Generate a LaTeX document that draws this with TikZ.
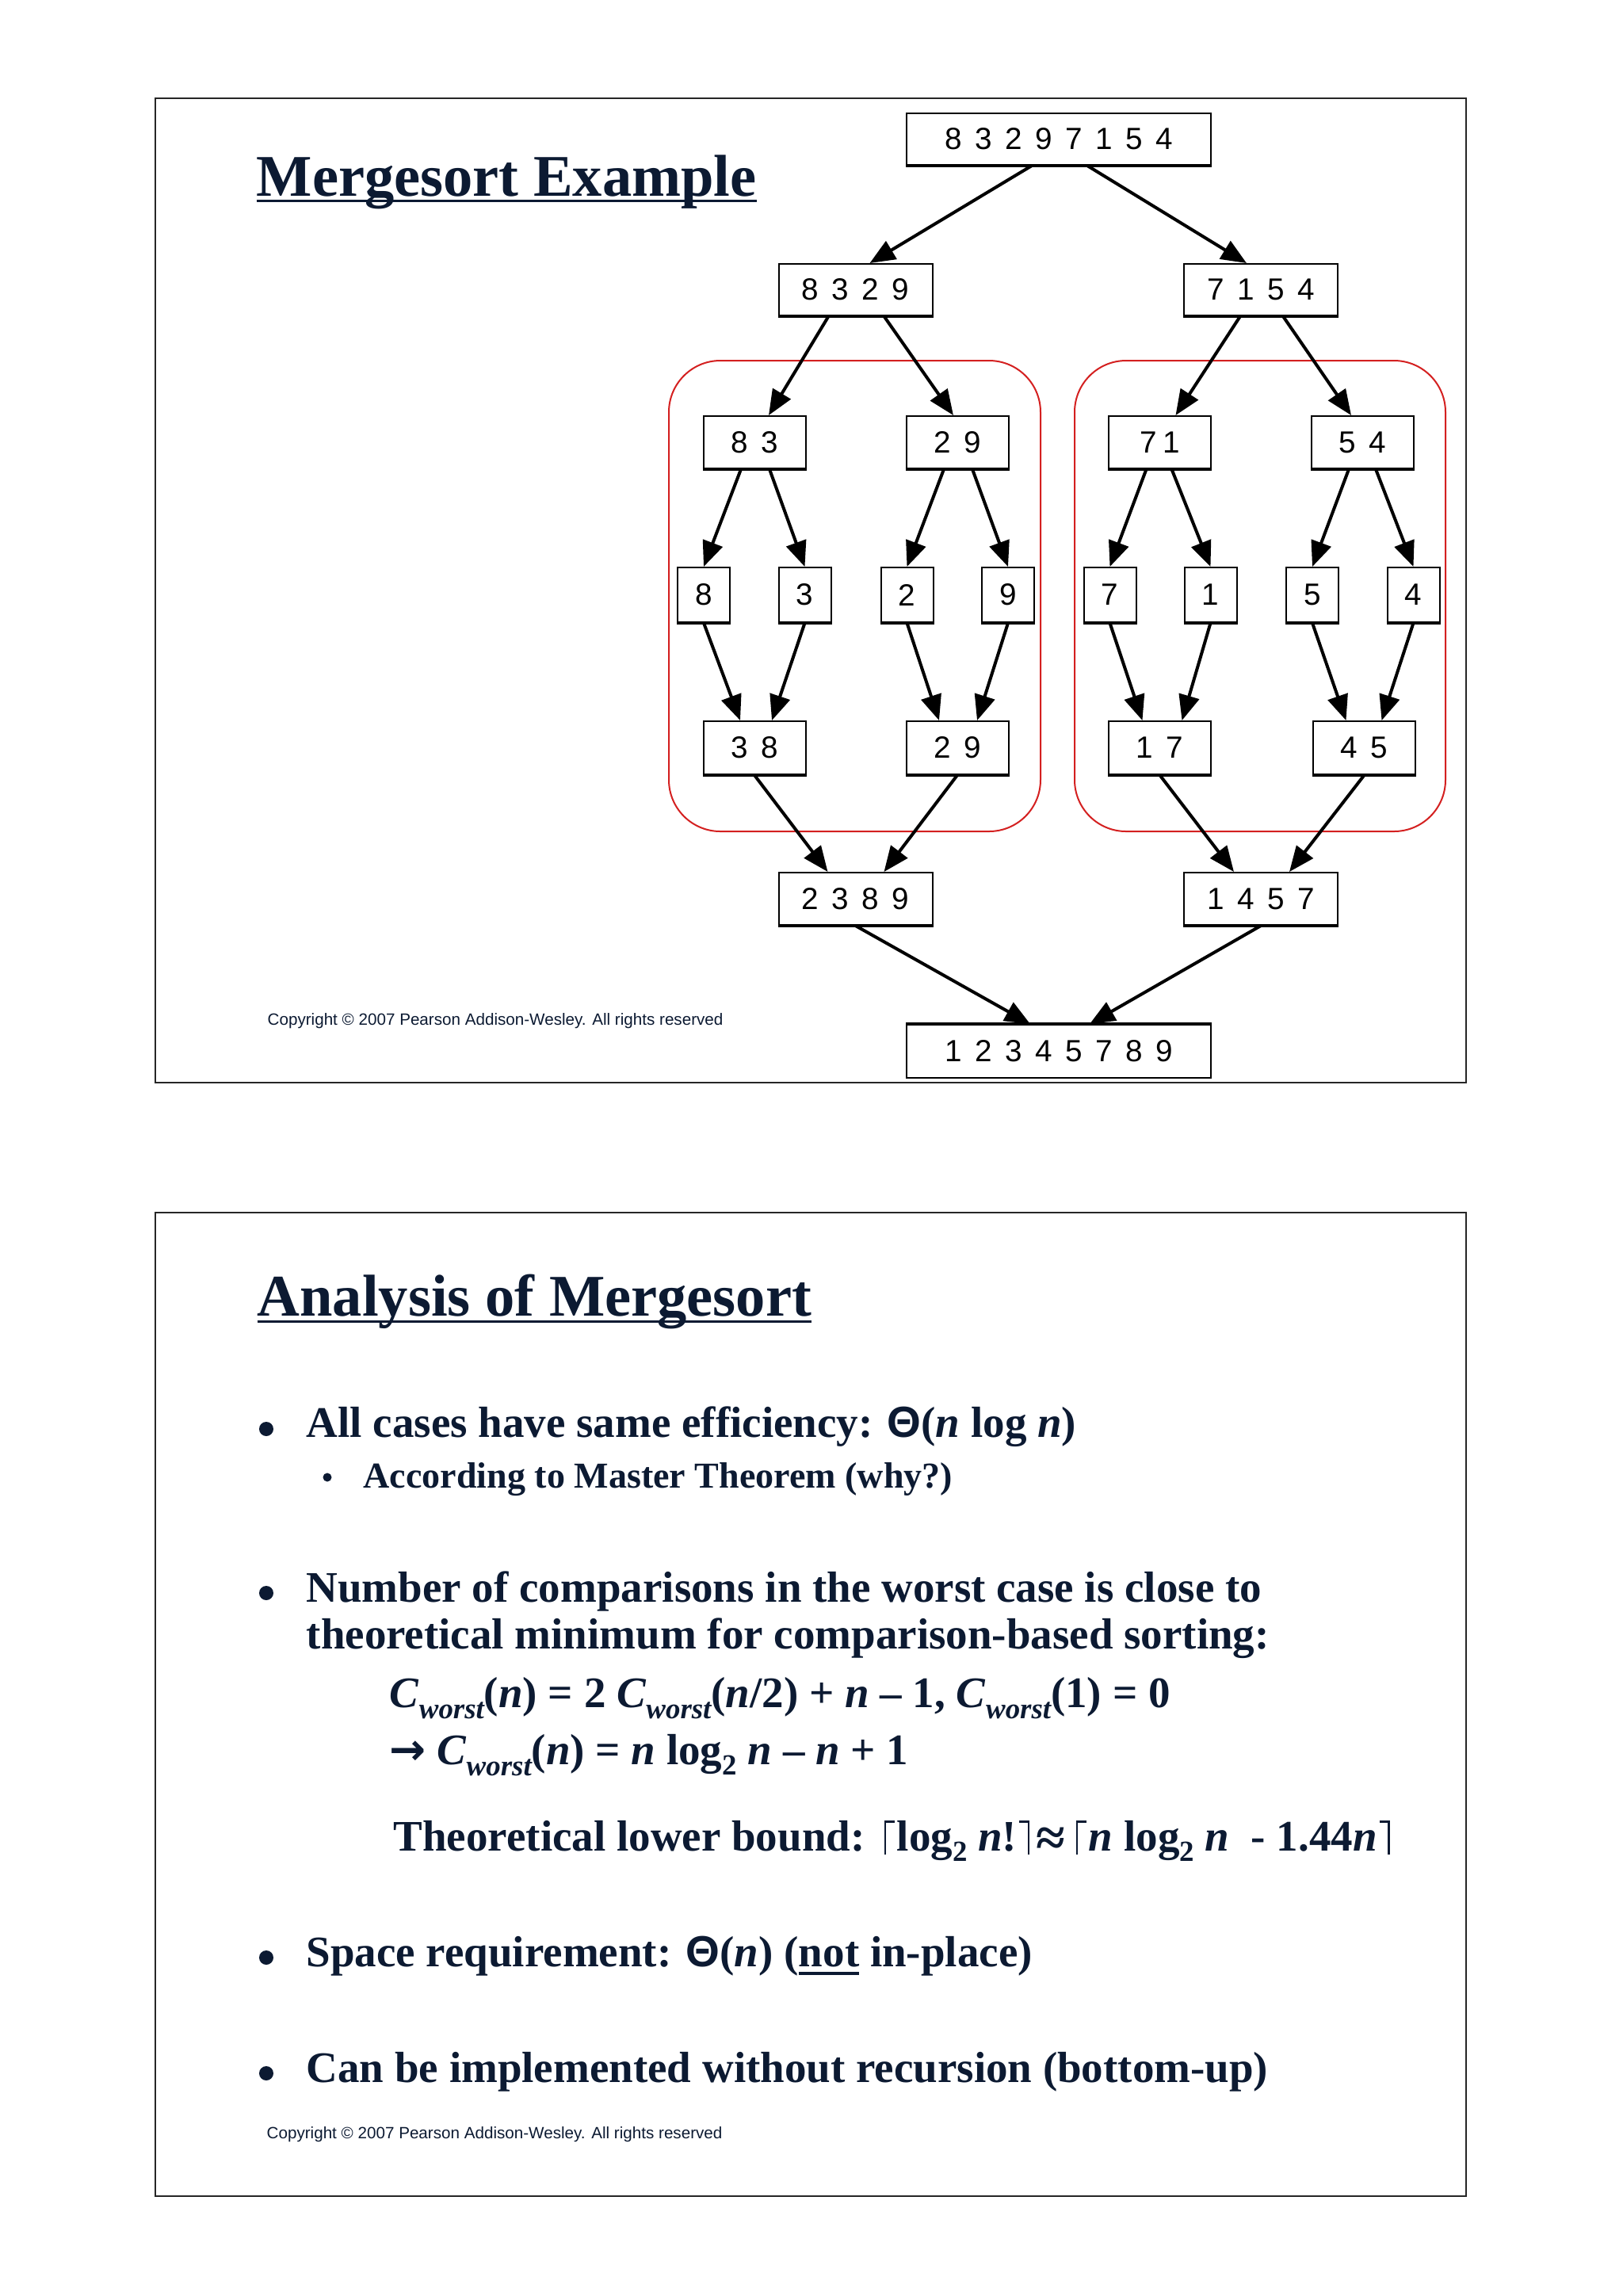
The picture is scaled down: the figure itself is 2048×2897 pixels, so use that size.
\documentclass[tikz,border=0pt]{standalone}
\usepackage{fontspec}
\setmainfont{Liberation Serif}
\setsansfont{Liberation Sans}
\newfontfamily\arrfont{DejaVu Sans}
\usetikzlibrary{arrows.meta}
\definecolor{navy}{RGB}{12,26,50}
\definecolor{grpred}{RGB}{212,32,32}
\newcommand\myul[3]{\setbox0\hbox{#3}\rlap{\rule[-#1]{\wd0}{#2}}\box0\relax}
\newcommand\wsub{\raisebox{-1.4mm}{\fontsize{10.5pt}{12pt}\selectfont\itshape worst}}
\newcommand\twosub{\raisebox{-1.3mm}{\fontsize{10.5pt}{12pt}\selectfont 2}}
\newcommand\myceilL{\kern0.6mm\rule[-0.5mm]{0.25mm}{4.3mm}\kern-0.25mm\rule[3.55mm]{1.3mm}{0.25mm}\kern0.3mm}
\newcommand\myceilR{\kern0.3mm\rule[3.55mm]{1.3mm}{0.25mm}\kern-0.25mm\rule[-0.5mm]{0.25mm}{4.3mm}\kern0.6mm}
\newcommand\digitfont{\sffamily\fontsize{11pt}{12pt}\selectfont\spaceskip=1.65mm\relax}
\newcommand\titlefont{\bfseries\fontsize{21.2pt}{24pt}\selectfont}
\newcommand\bodyfont{\bfseries\fontsize{15.65pt}{18pt}\selectfont}
\newcommand\subfont{\bfseries\fontsize{13.1pt}{15pt}\selectfont}
\newcommand\copyfont{\sffamily\fontsize{5.87pt}{7pt}\selectfont}
\newcommand\nbox[6]{\node[numbox, minimum width=#4, minimum height=#5] (#1) at (#2,#3) {#6};}
\tikzset{
  frame/.style={draw=black!85, line width=0.25mm},
  numbox/.style={draw, line width=0.2mm, inner sep=0pt, font=\digitfont, text=black},
  grp/.style={draw=grpred, line width=0.2mm, rounded corners=6.5mm},
  arr/.style={line width=0.4mm, -{Triangle[length=3.2mm,width=2.6mm]}},
  thickedge/.style={line width=0.45mm},
  txt/.style={anchor=base west, inner sep=0pt, text=navy},
  bul/.style={circle, fill=navy, inner sep=0pt, minimum size=1.8mm},
  subbul/.style={circle, fill=navy, inner sep=0pt, minimum size=1.1mm},
}
\begin{document}
\begin{tikzpicture}[x=0.1mm, y=-0.1mm]
\useasboundingbox (0,0) rectangle (2048,2897);
\fill[white] (0,0) rectangle (2048,2897);
% slide frames
\draw[frame] (196,124) rectangle (1850,1366);
\draw[frame] (196,1530) rectangle (1850,2771);
% red groups
\draw[grp] (844,455) rectangle (1313,1049);
\draw[grp] (1356,455) rectangle (1824,1049);
% boxes
\nbox{root}{1336}{175.5}{38.4mm}{6.5mm}{8 3 2 9 7 1 5 4}
\nbox{L}{1079.5}{365.5}{19.4mm}{6.5mm}{8 3 2 9}
\nbox{R}{1591}{365.5}{19.4mm}{6.5mm}{7 1 5 4}
\nbox{a}{952}{558}{12.9mm}{6.6mm}{8 3}
\nbox{b}{1208}{558}{12.9mm}{6.6mm}{2 9}
\nbox{c}{1463.5}{558}{12.9mm}{6.6mm}{7\hspace{0.8mm}1}
\nbox{d}{1719}{558}{12.9mm}{6.6mm}{5 4}
\nbox{e8}{888}{750.5}{6.6mm}{6.9mm}{8}
\nbox{e3}{1015.5}{750.5}{6.6mm}{6.9mm}{3}
\nbox{e2}{1144.5}{750.5}{6.6mm}{6.9mm}{2}
\nbox{e9}{1272}{750.5}{6.6mm}{6.9mm}{9}
\nbox{e7}{1400.5}{750.5}{6.6mm}{6.9mm}{7}
\nbox{e1}{1527.5}{750.5}{6.6mm}{6.9mm}{1}
\nbox{e5}{1656}{750.5}{6.6mm}{6.9mm}{5}
\nbox{e4}{1783.5}{750.5}{6.6mm}{6.9mm}{4}
\nbox{m38}{952}{943.5}{12.9mm}{6.7mm}{3 8}
\nbox{m29}{1208}{943.5}{12.9mm}{6.7mm}{2 9}
\nbox{m17}{1463.5}{943.5}{12.9mm}{6.7mm}{1 7}
\nbox{m45}{1721.5}{943.5}{12.9mm}{6.7mm}{4 5}
\nbox{M1}{1079.5}{1134}{19.4mm}{6.6mm}{2 3 8 9}
\nbox{M2}{1591}{1134}{19.4mm}{6.6mm}{1 4 5 7}
\nbox{F}{1336}{1326.5}{38.4mm}{6.7mm}{1 2 3 4 5 7 8 9}
\foreach \n in {root,L,R,a,b,c,d,e8,e3,e2,e9,e7,e1,e5,e4,m38,m29,m17,m45,M1,M2}
  \draw[thickedge] (\n.south west) -- (\n.south east);
\draw[thickedge] (F.north west) -- (F.north east);
% split arrows
\draw[arr] ([xshift=-3.4mm]root.south) -- ([xshift=1.8mm]L.north);
\draw[arr] ([xshift=3.6mm]root.south) -- ([xshift=-1.8mm]R.north);
\draw[arr] ([xshift=-3.4mm]L.south) -- ([xshift=1.8mm]a.north);
\draw[arr] ([xshift=3.6mm]L.south) -- ([xshift=-0.5mm]b.north);
\draw[arr] ([xshift=-2.6mm]R.south) -- ([xshift=2mm]c.north);
\draw[arr] ([xshift=2.8mm]R.south) -- ([xshift=-1.4mm]d.north);
\draw[arr] ([xshift=-1.7mm]a.south) -- (e8.north);
\draw[arr] ([xshift=1.9mm]a.south) -- (e3.north);
\draw[arr] ([xshift=-1.7mm]b.south) -- (e2.north);
\draw[arr] ([xshift=1.9mm]b.south) -- (e9.north);
\draw[arr] ([xshift=-1.7mm]c.south) -- (e7.north);
\draw[arr] ([xshift=1.5mm]c.south) -- (e1.north);
\draw[arr] ([xshift=-1.7mm]d.south) -- (e5.north);
\draw[arr] ([xshift=1.7mm]d.south) -- (e4.north);
% merge arrows
\draw[arr] (e8.south) -- ([xshift=-1.8mm]m38.north);
\draw[arr] (e3.south) -- ([xshift=2.2mm]m38.north);
\draw[arr] (e2.south) -- ([xshift=-2.3mm]m29.north);
\draw[arr] (e9.south) -- ([xshift=2.5mm]m29.north);
\draw[arr] (e7.south) -- ([xshift=-2.2mm]m17.north);
\draw[arr] (e1.south) -- ([xshift=2.8mm]m17.north);
\draw[arr] (e5.south) -- ([xshift=-2.3mm]m45.north);
\draw[arr] (e4.south) -- ([xshift=2.2mm]m45.north);
\draw[arr] (m38.south) -- ([xshift=-3.5mm]M1.north);
\draw[arr] (m29.south) -- ([xshift=3.6mm]M1.north);
\draw[arr] (m17.south) -- ([xshift=-3.4mm]M2.north);
\draw[arr] (m45.south) -- ([xshift=3.6mm]M2.north);
\draw[arr] (M1.south) -- ([xshift=-3.6mm]F.north);
\draw[arr] (M2.south) -- ([xshift=3.9mm]F.north);
% slide 1 texts
\node[txt, font=\titlefont] (t1) at (323,247) {\myul{0.83mm}{0.36mm}{Mergesort Example}};
\node[txt, font=\copyfont] (c1) at (337,1293) {Copyright © 2007 Pearson Addison-Wesley. All rights reserved};
% slide 2 texts
\node[txt, font=\titlefont] (t2) at (324,1660) {\myul{0.9mm}{0.35mm}{Analysis of Mergesort}};
\node[bul] (u1) at (336,1803) {};
\node[txt, font=\bodyfont] (b1) at (386,1813) {All cases have same efficiency: {\sffamily Θ}(\textit{n} log \textit{n})};
\node[subbul] (u1s) at (413,1864) {};
\node[txt, font=\subfont] (s1) at (458,1877) {According to Master Theorem (why?)};
\node[bul] (u2) at (336,2010) {};
\node[txt, font=\bodyfont] (b2a) at (386,2021) {Number of comparisons in the worst case is close to};
\node[txt, font=\bodyfont] (b2b) at (386,2080) {theoretical minimum for comparison-based sorting:};
\node[txt, font=\bodyfont] (f1) at (491,2154) {\textit{C}\wsub(\textit{n}) = 2 \textit{C}\wsub(\textit{n}/2) + \textit{n} – 1, \textit{C}\wsub(1) = 0};
\node[txt, font=\bodyfont] (f2) at (491,2226) {{\arrfont\bfseries →} \textit{C}\wsub(\textit{n}) = \textit{n} log\twosub\ \textit{n} – \textit{n} + 1};
\node[txt, font=\bodyfont] (f3) at (496,2335) {Theoretical lower bound: \myceilL log\twosub\ \textit{n}!\myceilR\kern0.2mm\raisebox{-0.6mm}{\fontsize{19pt}{20pt}\selectfont ≈}\kern0.8mm\myceilL\textit{n} log\twosub\ \textit{n}\ \ - 1.44\textit{n}\myceilR};
\node[bul] (u3) at (336,2470) {};
\node[txt, font=\bodyfont] (b3) at (386,2481) {Space requirement: {\sffamily Θ}(\textit{n}) (\myul{1.1mm}{0.45mm}{not} in-place)};
\node[bul] (u4) at (336,2616) {};
\node[txt, font=\bodyfont] (b4) at (386,2627) {Can be implemented without recursion (bottom-up)};
\node[txt, font=\copyfont] (c2) at (336,2698) {Copyright © 2007 Pearson Addison-Wesley. All rights reserved};
\end{tikzpicture}
\end{document}
